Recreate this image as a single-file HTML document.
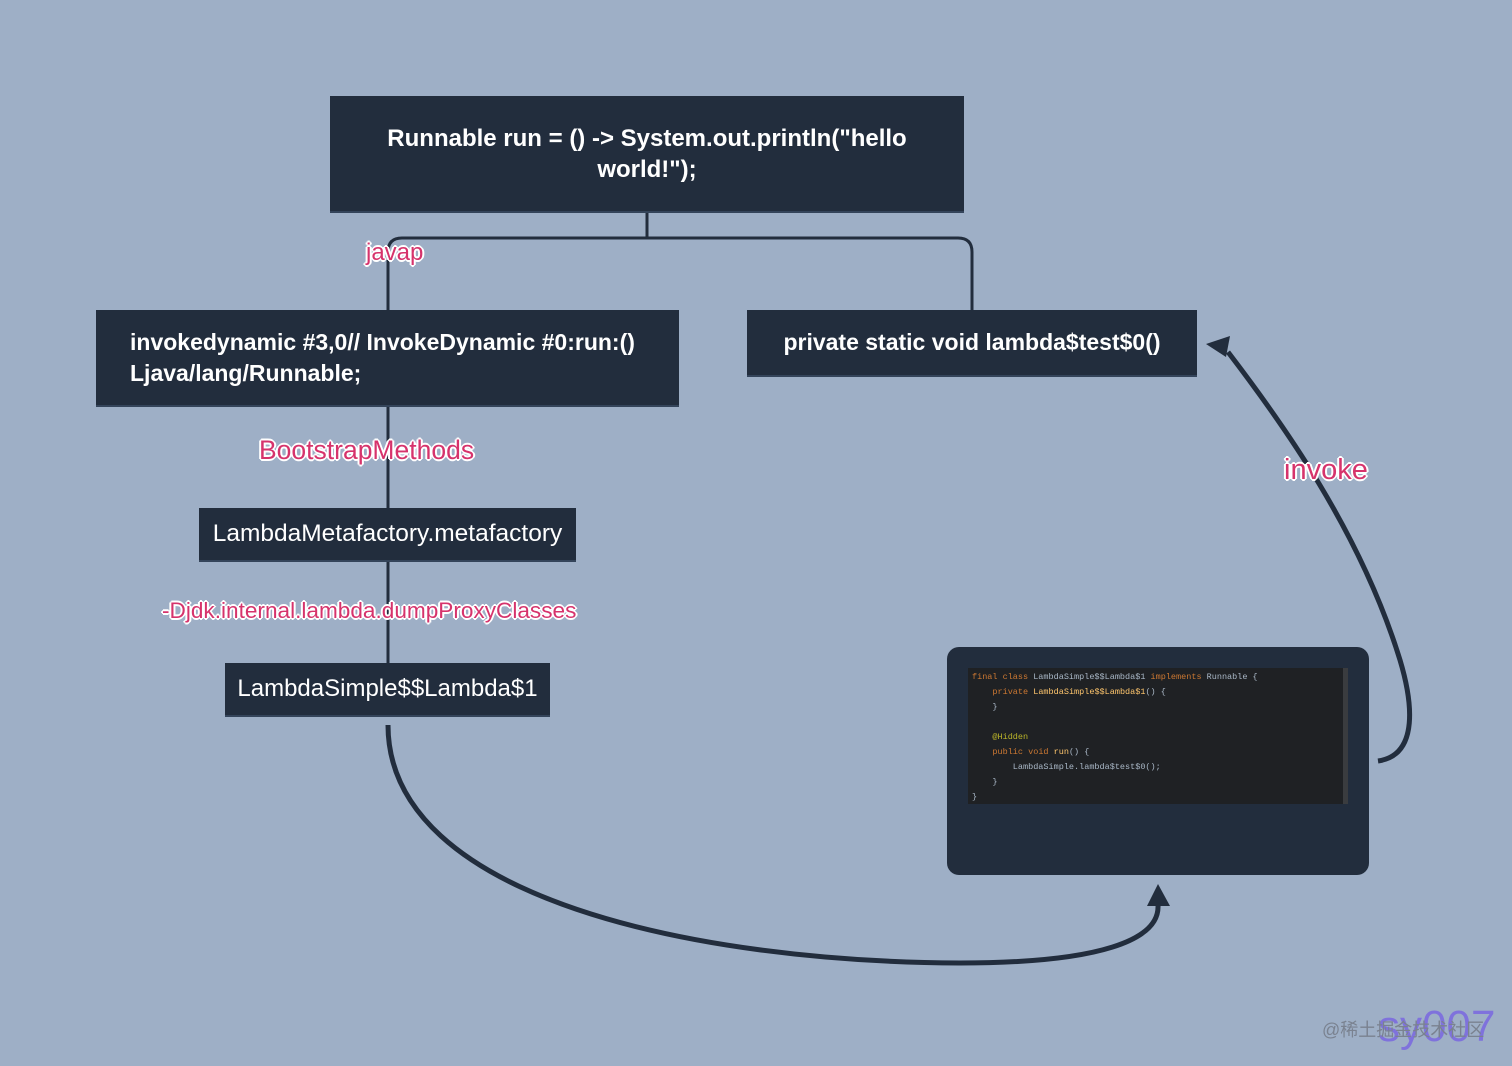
<!DOCTYPE html>
<html><head><meta charset="utf-8"><style>
html,body{margin:0;padding:0;}
body{width:1512px;height:1066px;background:#9eafc6;position:relative;overflow:hidden;font-family:"Liberation Sans",sans-serif;}
.box{position:absolute;background:#222d3d;color:#fff;box-sizing:border-box;display:flex;align-items:center;border-bottom:2px solid #34445a;}
.lbl{position:absolute;color:#d6336c;font-size:24px;text-shadow:-2px 0 #fff,2px 0 #fff,0 -2px #fff,0 2px #fff,-1px -1px #fff,1px 1px #fff,-1px 1px #fff,1px -1px #fff;white-space:nowrap;}
.code{position:absolute;left:968px;top:668px;width:380px;height:136px;background:#1f2124;font-family:"Liberation Mono",monospace;font-size:8.5px;line-height:15px;color:#a9b7c6;padding:2px 4px;box-sizing:border-box;white-space:pre;border-right:5px solid #3a3c3f;}
.k{color:#cc7832}.f{color:#ffc66d}.a{color:#bbb529}
</style></head><body>
<svg width="1512" height="1066" style="position:absolute;left:0;top:0">
<g fill="none" stroke="#222d3d" stroke-width="3">
<path d="M647 213 V238"/>
<path d="M388 310 V252 Q388 238 402 238 H958 Q972 238 972 252 V310"/>
<path d="M388 407 V663"/>
</g>
<g fill="none" stroke="#222d3d" stroke-width="5">
<path d="M388 725 C388 900 700 962 960 963 C1100 963 1160 940 1158 905"/>
<path d="M1378 761 C1420 755 1412 700 1400 660 C1360 530 1280 420 1228 352"/>
</g>
<polygon points="1158,884 1147,906 1170,906" fill="#222d3d"/>
<polygon points="1206,344 1230,336 1226,357" fill="#222d3d"/>
</svg>
<div class="box" style="left:330px;top:96px;width:634px;height:117px;justify-content:center;text-align:center;font-weight:bold;font-size:24px;line-height:31px;padding:0 50px">Runnable run = () -&gt; System.out.println("hello world!");</div>
<div class="box" style="left:96px;top:310px;width:583px;height:97px;padding-left:34px;font-size:23px;font-weight:bold;line-height:31px">invokedynamic #3,0// InvokeDynamic #0:run:()<br>Ljava/lang/Runnable;</div>
<div class="box" style="left:747px;top:310px;width:450px;height:67px;justify-content:center;font-size:23px;font-weight:bold">private static void lambda$test$0()</div>
<div class="box" style="left:199px;top:508px;width:377px;height:54px;justify-content:center;font-size:24.5px">LambdaMetafactory.metafactory</div>
<div class="box" style="left:225px;top:663px;width:325px;height:54px;justify-content:center;font-size:24px">LambdaSimple$$Lambda$1</div>
<div style="position:absolute;left:947px;top:647px;width:422px;height:228px;background:#222d3d;border-radius:12px"></div>
<div class="code"><span class="k">final class</span> LambdaSimple$$Lambda$1 <span class="k">implements</span> Runnable {
    <span class="k">private</span> <span class="f">LambdaSimple$$Lambda$1</span>() {
    }

    <span class="a">@Hidden</span>
    <span class="k">public void</span> <span class="f">run</span>() {
        LambdaSimple.lambda$test$0();
    }
}</div>
<div class="lbl" style="left:366px;top:239px;font-size:24px">javap</div>
<div class="lbl" style="left:259px;top:435px;font-size:26.5px">BootstrapMethods</div>
<div class="lbl" style="left:162px;top:598px;font-size:22.6px">-Djdk.internal.lambda.dumpProxyClasses</div>
<div class="lbl" style="left:1284px;top:454px;font-size:29px">invoke</div>
<div style="position:absolute;left:1378px;top:1002px;color:#7a68e0;font-size:44px;opacity:.85">sy007</div>
<div style="position:absolute;left:1322px;top:1016px;color:#7a8290;font-size:18px;font-family:'Liberation Sans','Noto Sans CJK SC',sans-serif">@稀土掘金技术社区</div>
</body></html>
